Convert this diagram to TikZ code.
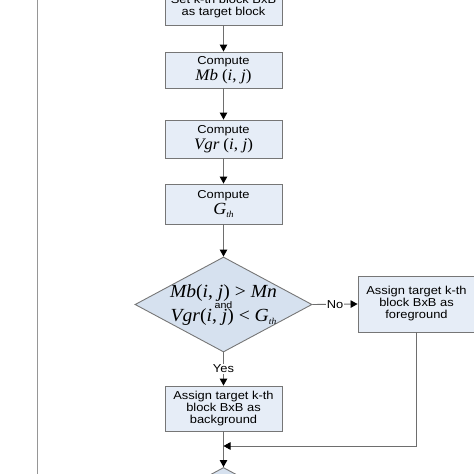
\documentclass[tikz,border=0pt]{standalone}
\usepackage{fontspec}
\setmainfont[FakeStretch=1.12]{Liberation Sans}
\newfontfamily\mathser[FakeStretch=1.06]{Liberation Serif}
\usetikzlibrary{shapes.geometric,arrows.meta}
\definecolor{boxfill}{RGB}{230,237,247}
\definecolor{decfill}{RGB}{214,225,239}
\definecolor{boxline}{RGB}{118,118,118}
\definecolor{linegray}{RGB}{110,110,110}
\definecolor{leftgray}{RGB}{150,150,150}
\newcommand\mi[1]{{\mathser\itshape #1}}
\newcommand\mr[1]{{\mathser #1}}
\newcommand\gth{\mi{G}\raisebox{-0.35ex}{\fontsize{9}{9}\selectfont\mi{th}}}
\newcommand\argij{\mr{(}\mi{i}\mr{,}\hspace{4.5pt}\mi{j}\mr{)}}
\begin{document}
\begin{tikzpicture}[x=1pt,y=-1pt,
  box/.style={draw=boxline, fill=boxfill, line width=0.9pt, minimum width=117pt, inner sep=0pt, align=center, font=\fontsize{11.5}{12}\selectfont},
  decbox/.style={diamond, draw=boxline, fill=decfill, line width=0.9pt, minimum width=177pt, minimum height=95pt, inner sep=0pt},
  line/.style={draw=linegray, line width=0.9pt},
  arr/.style={line, -{Triangle[length=7pt,width=7.5pt,color=black]}},
  lbl/.style={fill=white, inner sep=1pt, font=\fontsize{11.5}{12}\selectfont},
  mtxt/.style={inner sep=0pt, anchor=base, font=\fontsize{18.5}{18.5}\selectfont}
]
\useasboundingbox (0,0) rectangle (474,474);
\clip (0,0) rectangle (474,474);
\coordinate (lt) at (37,-5);
\coordinate (lb) at (37,480);
\draw[line, draw=leftgray] (lt) -- (lb);

\node[box, minimum height=36pt] (b0) at (223.5,7) {Set k-th block BxB\\as target block};
\node[box, minimum height=36pt] (b1) at (223.5,70) {Compute\\[1pt]{\fontsize{16}{16}\selectfont\mi{Mb}\hspace{4pt}\argij}};
\node[box, minimum height=38pt] (b2) at (223.5,139) {Compute\\[1pt]{\fontsize{16}{16}\selectfont\mi{Vgr}\hspace{4pt}\argij}};
\node[box, minimum height=40pt] (b3) at (223.5,204) {Compute\\[2pt]{\fontsize{17}{17}\selectfont\gth}};
\node[decbox] (d) at (223.5,304.5) {};
\node[mtxt] (t1) at (223.5,297) {\mi{Mb}\mr{(}\mi{i}\mr{, }\mi{j}\mr{) > }\mi{Mn}};
\node[inner sep=0pt, anchor=base, font=\fontsize{9.5}{9.5}\selectfont] (t2) at (223.5,308) {and};
\node[mtxt] (t3) at (223.5,321.5) {\mi{Vgr}\mr{(}\mi{i}\mr{, }\mi{j}\mr{) < }\gth};
\node[box, minimum height=56pt] (fg) at (416.5,304) {Assign target k-th\\block BxB as\\foreground};
\node[box, minimum height=45pt] (bg) at (223.5,408.5) {Assign target k-th\\block BxB as\\background};
\node[decbox] (d2) at (223.5,515) {};
\coordinate (m) at (223.5,446);

\draw[arr] (b0.south) -- (b1.north);
\draw[arr] (b1.south) -- (b2.north);
\draw[arr] (b2.south) -- (b3.north);
\draw[arr] (b3.south) -- (d.north);
\draw[arr] (d.east) -- node[lbl] {No} (fg.west);
\draw[arr] (d.south) -- node[lbl] {Yes} (bg.north);
\draw[arr] (bg.south) -- (d2.north);
\draw[arr] (fg.south) |- (m);
\end{tikzpicture}
\end{document}
